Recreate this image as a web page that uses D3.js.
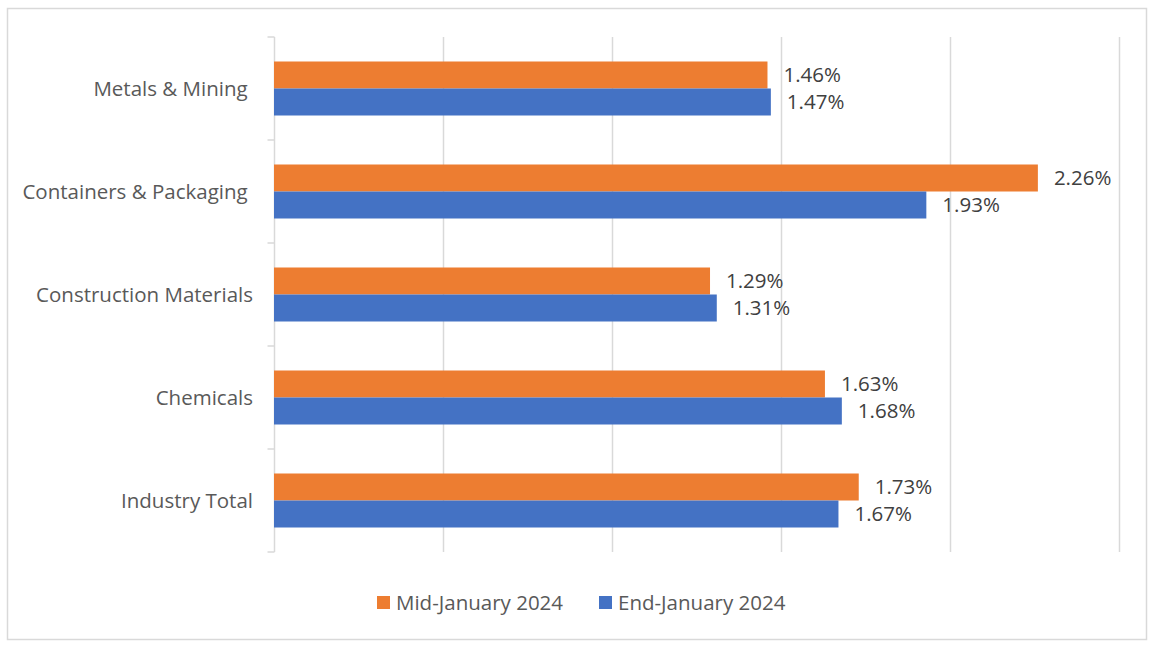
<!DOCTYPE html>
<html>
<head>
    <meta charset="utf-8">
    <title>Mid vs End January 2024</title>
    <script src="https://cdn.jsdelivr.net/npm/d3@7"></script>
    <style>
        body { margin: 0; background: #fff; }
        text { font-family: "Open Sans", "Noto Sans", sans-serif; }
        .cat-label { font-size: 20.5px; fill: #595959; white-space: pre; }
        .bar-label { font-size: 20.5px; fill: #404040; }
        .legend-label { font-size: 20.5px; fill: #595959; }
    </style>
</head>
<body>
    <script>
        const categories = ['Metals & Mining ', 'Containers & Packaging ', 'Construction Materials', 'Chemicals', 'Industry Total'];
        const seriesNames = ['Mid-January 2024', 'End-January 2024'];
        const midJanuary = [1.46, 2.26, 1.29, 1.63, 1.73];
        const endJanuary = [1.47, 1.93, 1.31, 1.68, 1.67];
        const xTicks = [0, 0.5, 1, 1.5, 2, 2.5];
        const colors = ['#ED7D31', '#4472C4'];

        const data = categories.map((c, i) => ({ category: c, values: [midJanuary[i], endJanuary[i]] }));

        const width = 1156;
        const height = 646;
        const plot = { left: 274, right: 1119, top: 37, bottom: 552 };

        const svg = d3.select('body')
            .append('svg')
            .attr('width', width)
            .attr('height', height);

        // outer frame
        svg.append('rect')
            .attr('x', 7.5)
            .attr('y', 8.5)
            .attr('width', 1139)
            .attr('height', 631)
            .attr('fill', '#fff')
            .attr('stroke', '#d9d9d9')
            .attr('stroke-width', 1.5);

        const xScale = d3.scaleLinear()
            .domain([0, 2.5])
            .range([plot.left, plot.right]);

        const yScale = d3.scaleBand()
            .domain(categories)
            .range([plot.top, plot.bottom])
            .paddingInner(0)
            .paddingOuter(0);

        const inner = d3.scaleBand()
            .domain(seriesNames)
            .range([24.5, yScale.bandwidth() - 24.5]);

        // gridlines
        svg.append('g')
            .selectAll('line')
            .data(xTicks.slice(1))
            .join('line')
            .attr('x1', d => xScale(d) + 0.5)
            .attr('x2', d => xScale(d) + 0.5)
            .attr('y1', plot.top)
            .attr('y2', plot.bottom)
            .attr('stroke', '#d9d9d9')
            .attr('stroke-width', 1.5);

        // category axis
        const yAxis = svg.append('g')
            .attr('transform', `translate(${plot.left + 0.5},0)`);
        yAxis.append('line')
            .attr('y1', plot.top)
            .attr('y2', plot.bottom)
            .attr('stroke', '#d9d9d9')
            .attr('stroke-width', 1.5);
        yAxis.selectAll('.tick')
            .data(categories.map(c => yScale(c)).concat([plot.bottom]))
            .join('line')
            .attr('class', 'tick')
            .attr('x1', -7)
            .attr('x2', 0)
            .attr('y1', d => d)
            .attr('y2', d => d)
            .attr('stroke', '#d9d9d9')
            .attr('stroke-width', 1.5);

        svg.selectAll('.cat-label')
            .data(categories)
            .join('text')
            .attr('class', 'cat-label')
            .attr('x', 253)
            .attr('y', d => yScale(d) + yScale.bandwidth() / 2)
            .attr('dy', '0.35em')
            .attr('text-anchor', 'end')
            .text(d => d);

        // bars
        const groups = svg.selectAll('.group')
            .data(data)
            .join('g')
            .attr('class', 'group')
            .attr('transform', d => `translate(0,${yScale(d.category)})`);

        const cells = d => d.values.map((v, i) => ({ name: seriesNames[i], value: v, color: colors[i] }));

        groups.selectAll('rect')
            .data(cells)
            .join('rect')
            .attr('x', xScale(0))
            .attr('y', d => inner(d.name))
            .attr('width', d => xScale(d.value) - xScale(0))
            .attr('height', inner.bandwidth())
            .attr('fill', d => d.color);

        groups.selectAll('.bar-label')
            .data(cells)
            .join('text')
            .attr('class', 'bar-label')
            .attr('x', d => xScale(d.value) + 16)
            .attr('y', d => inner(d.name) + inner.bandwidth() / 2)
            .attr('dy', '0.35em')
            .text(d => d.value.toFixed(2) + '%');

        // legend
        const legendX = [377, 599];
        const legend = svg.selectAll('.legend')
            .data(seriesNames)
            .join('g')
            .attr('class', 'legend')
            .attr('transform', (d, i) => `translate(${legendX[i]},596)`);
        legend.append('rect')
            .attr('width', 13)
            .attr('height', 13)
            .attr('fill', (d, i) => colors[i]);
        legend.append('text')
            .attr('class', 'legend-label')
            .attr('x', 19)
            .attr('y', 6.5)
            .attr('dy', '0.35em')
            .text(d => d);
    </script>
</body>
</html>
